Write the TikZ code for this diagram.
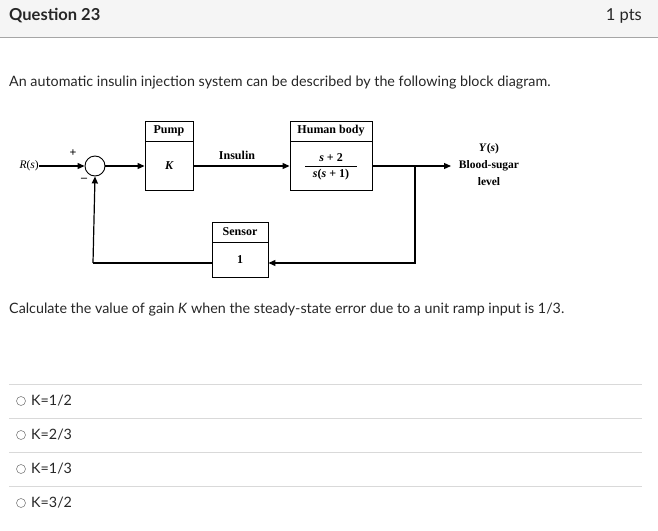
\documentclass[tikz,border=0pt]{standalone}
\usepackage{fontspec}
\setmainfont{Lato}
\newfontfamily\dia{Liberation Serif}
\usetikzlibrary{arrows.meta}
\begin{document}
\begin{tikzpicture}[x=1pt,y=-1pt,
  txt/.style={font=\fontsize{14.3}{16}\selectfont,text=black!85,anchor=west,inner sep=0},
  dtxt/.style={font=\dia\bfseries\fontsize{12}{13}\selectfont,inner sep=0},
  blk/.style={draw,line width=0.9pt},
  sig/.style={line width=1.2pt},
  arr/.style={sig,-{Triangle[length=7pt,width=6pt]}},
  sep/.style={draw=black!15,line width=0.6pt},
  radio/.style={draw=black!50,circle,minimum size=9pt,inner sep=0,line width=0.6pt}]
\useasboundingbox (0,0) rectangle (658,530);
\fill[black!4] (0,0) rectangle (658,37);
\draw[black!35,line width=1pt] (0,37) -- (658,37);
\node[txt,font=\bfseries\fontsize{16.5}{18}\selectfont] (q) at (9,16) {Question 23};
\node[txt,anchor=east,font=\fontsize{16.5}{18}\selectfont] (p) at (642,16) {1 pts};
\node[txt] (intro) at (9,83) {An automatic insulin injection system can be described by the following block diagram.};
% diagram
\node[blk,minimum width=48pt,minimum height=20pt,inner sep=0] (pt) at (169,131) {};
\node[blk,minimum width=48pt,minimum height=49pt,inner sep=0] (pb) at (169,165.5) {};
\node[dtxt] (ptl) at (pt) {Pump};
\node[dtxt,font=\dia\bfseries\itshape\fontsize{12}{13}\selectfont] (k) at (pb) {K};
\node[blk,minimum width=82pt,minimum height=20pt,inner sep=0] (ht) at (331,131) {};
\node[blk,minimum width=82pt,minimum height=49pt,inner sep=0] (hb) at (331,165.5) {};
\node[dtxt] (htl) at (ht) {Human body};
\node[dtxt] (num) at (331,158) {\textit{s} + 2};
\node[dtxt] (den) at (331,175) {\textit{s}(\textit{s} + 1)};
\draw[line width=0.6pt] (305,166) -- (357,166);
\node[blk,minimum width=56pt,minimum height=20pt,inner sep=0] (st) at (240,232) {};
\node[blk,minimum width=56pt,minimum height=35pt,inner sep=0] (sb) at (240,259.5) {};
\node[dtxt] (stl) at (st) {Sensor};
\node[dtxt] (one) at (sb) {1};
\node[draw,circle,minimum size=20pt,inner sep=0,line width=0.9pt] (sum) at (95,166) {};
\node[dtxt,anchor=east,font=\dia\fontsize{11.5}{13}\selectfont] (r) at (39,166) {\textit{R}(\textit{s})};
\node[dtxt] (plus) at (73,153) {+};
\node[dtxt] (minus) at (84,180) {–};
\node[dtxt] (ins) at (237,155) {Insulin};
\node[dtxt,align=center,font=\dia\bfseries\fontsize{11.5}{17}\selectfont] (y) at (489,165) {\textit{Y}(\textit{s})\\Blood-sugar\\level};
\coordinate (br) at (415,166);
\coordinate (out) at (451,166);
\coordinate (bl) at (93,263);
\draw[arr] (r) -- (sum);
\draw[arr] (sum) -- (pb.west |- sum);
\draw[arr] (pb.east |- sum) -- (hb.west |- sum);
\draw[sig] (hb.east |- br) -- (br);
\draw[arr] (br) -- (out);
\draw[arr] (br) |- (sb.east |- 0,263);
\draw[sig] (sb.west |- 0,263) -- (bl);
\draw[arr] (bl) -- (sum.south);
% question
\node[txt] (calc) at (9,310) {Calculate the value of gain \textit{K} when the steady-state error due to a unit ramp input is 1/3.};
\foreach \yy/\lab/\n in {401/K=1\slash 2/a,435/K=2\slash 3/b,469/K=1\slash 3/c,503/K=3\slash 2/d}{
  \draw[sep] (9,\yy-17) -- (642,\yy-17);
  \node[radio] (r\n) at (21,\yy) {};
  \node[txt] (l\n) at (31,\yy) {\lab};
}
\end{tikzpicture}
\end{document}
